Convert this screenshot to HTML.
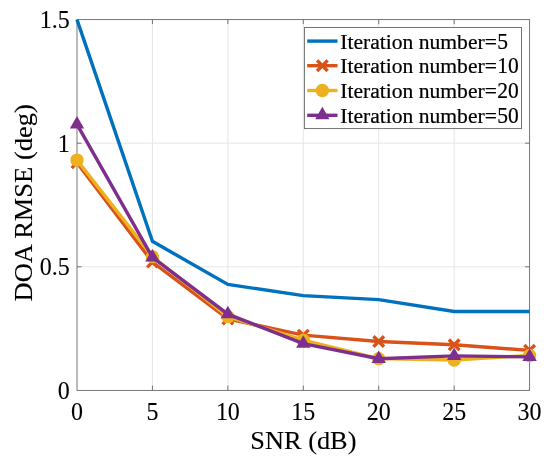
<!DOCTYPE html>
<html><head><meta charset="utf-8"><title>DOA RMSE vs SNR</title>
<style>html,body{margin:0;padding:0;background:#fff}svg{display:block}</style></head>
<body>
<svg width="550" height="460" viewBox="0 0 550 460">
<rect width="550" height="460" fill="#fff"/>
<line x1="152.43" y1="19.6" x2="152.43" y2="390.4" stroke="#e6e6e6" stroke-width="1"/>
<line x1="227.87" y1="19.6" x2="227.87" y2="390.4" stroke="#e6e6e6" stroke-width="1"/>
<line x1="303.30" y1="19.6" x2="303.30" y2="390.4" stroke="#e6e6e6" stroke-width="1"/>
<line x1="378.73" y1="19.6" x2="378.73" y2="390.4" stroke="#e6e6e6" stroke-width="1"/>
<line x1="454.17" y1="19.6" x2="454.17" y2="390.4" stroke="#e6e6e6" stroke-width="1"/>
<line x1="77.0" y1="266.80" x2="529.6" y2="266.80" stroke="#e6e6e6" stroke-width="1"/>
<line x1="77.0" y1="143.20" x2="529.6" y2="143.20" stroke="#e6e6e6" stroke-width="1"/>
<rect x="77.0" y="19.6" width="452.6" height="370.8" fill="none" stroke="#686868" stroke-width="0.9"/>
<line x1="152.43" y1="390.4" x2="152.43" y2="385.5" stroke="#686868" stroke-width="0.9"/>
<line x1="152.43" y1="19.6" x2="152.43" y2="24.1" stroke="#686868" stroke-width="0.9"/>
<line x1="227.87" y1="390.4" x2="227.87" y2="385.5" stroke="#686868" stroke-width="0.9"/>
<line x1="227.87" y1="19.6" x2="227.87" y2="24.1" stroke="#686868" stroke-width="0.9"/>
<line x1="303.30" y1="390.4" x2="303.30" y2="385.5" stroke="#686868" stroke-width="0.9"/>
<line x1="303.30" y1="19.6" x2="303.30" y2="24.1" stroke="#686868" stroke-width="0.9"/>
<line x1="378.73" y1="390.4" x2="378.73" y2="385.5" stroke="#686868" stroke-width="0.9"/>
<line x1="378.73" y1="19.6" x2="378.73" y2="24.1" stroke="#686868" stroke-width="0.9"/>
<line x1="454.17" y1="390.4" x2="454.17" y2="385.5" stroke="#686868" stroke-width="0.9"/>
<line x1="454.17" y1="19.6" x2="454.17" y2="24.1" stroke="#686868" stroke-width="0.9"/>
<line x1="77.0" y1="266.80" x2="81.5" y2="266.80" stroke="#686868" stroke-width="0.9"/>
<line x1="529.6" y1="266.80" x2="525.1" y2="266.80" stroke="#686868" stroke-width="0.9"/>
<line x1="77.0" y1="143.20" x2="81.5" y2="143.20" stroke="#686868" stroke-width="0.9"/>
<line x1="529.6" y1="143.20" x2="525.1" y2="143.20" stroke="#686868" stroke-width="0.9"/>
<clipPath id="cp"><rect x="69.0" y="11.600000000000001" width="468.6" height="386.4"/></clipPath>
<g clip-path="url(#cp)">
<polyline points="77.00,19.60 152.43,241.35 227.87,284.44 303.30,295.67 378.73,299.57 454.17,311.52 529.60,311.52" fill="none" stroke="#0072BD" stroke-width="3.4" stroke-linejoin="miter" stroke-linecap="butt"/>
<polyline points="77.00,162.82 152.43,262.09 227.87,318.88 303.30,335.18 378.73,341.48 454.17,344.81 529.60,350.37" fill="none" stroke="#D95319" stroke-width="3.4" stroke-linejoin="miter" stroke-linecap="butt"/>
<path d="M71.70 157.52L82.30 168.12M71.70 168.12L82.30 157.52" stroke="#D95319" stroke-width="3.4" fill="none"/>
<path d="M147.13 256.79L157.73 267.39M147.13 267.39L157.73 256.79" stroke="#D95319" stroke-width="3.4" fill="none"/>
<path d="M222.57 313.58L233.17 324.18M222.57 324.18L233.17 313.58" stroke="#D95319" stroke-width="3.4" fill="none"/>
<path d="M298.00 329.88L308.60 340.48M298.00 340.48L308.60 329.88" stroke="#D95319" stroke-width="3.4" fill="none"/>
<path d="M373.43 336.18L384.03 346.78M373.43 346.78L384.03 336.18" stroke="#D95319" stroke-width="3.4" fill="none"/>
<path d="M448.87 339.51L459.47 350.11M448.87 350.11L459.47 339.51" stroke="#D95319" stroke-width="3.4" fill="none"/>
<path d="M524.30 345.07L534.90 355.67M524.30 355.67L534.90 345.07" stroke="#D95319" stroke-width="3.4" fill="none"/>
<polyline points="77.00,160.11 152.43,256.66 227.87,316.66 303.30,340.12 378.73,358.64 454.17,360.00 529.60,355.43" fill="none" stroke="#EDB120" stroke-width="3.4" stroke-linejoin="miter" stroke-linecap="butt"/>
<circle cx="77.00" cy="160.11" r="6.7" fill="#EDB120"/>
<circle cx="152.43" cy="256.66" r="6.7" fill="#EDB120"/>
<circle cx="227.87" cy="316.66" r="6.7" fill="#EDB120"/>
<circle cx="303.30" cy="340.12" r="6.7" fill="#EDB120"/>
<circle cx="378.73" cy="358.64" r="6.7" fill="#EDB120"/>
<circle cx="454.17" cy="360.00" r="6.7" fill="#EDB120"/>
<circle cx="529.60" cy="355.43" r="6.7" fill="#EDB120"/>
<polyline points="77.00,124.30 152.43,257.35 227.87,314.19 303.30,343.58 378.73,358.76 454.17,355.92 529.60,356.91" fill="none" stroke="#7E2F8E" stroke-width="3.4" stroke-linejoin="miter" stroke-linecap="butt"/>
<path d="M77.00 115.97L84.20 128.47L69.80 128.47Z" fill="#7E2F8E"/>
<path d="M152.43 249.01L159.63 261.51L145.23 261.51Z" fill="#7E2F8E"/>
<path d="M227.87 305.86L235.07 318.36L220.67 318.36Z" fill="#7E2F8E"/>
<path d="M303.30 335.24L310.50 347.74L296.10 347.74Z" fill="#7E2F8E"/>
<path d="M378.73 350.43L385.93 362.93L371.53 362.93Z" fill="#7E2F8E"/>
<path d="M454.17 347.59L461.37 360.09L446.97 360.09Z" fill="#7E2F8E"/>
<path d="M529.60 348.58L536.80 361.08L522.40 361.08Z" fill="#7E2F8E"/>
</g>
<text transform="translate(77.00,419.7) scale(0.93,1)" font-size="25.8" font-family="Liberation Serif, serif" text-anchor="middle" fill="#000" stroke="#000" stroke-width="0.1">0</text>
<text transform="translate(152.43,419.7) scale(0.93,1)" font-size="25.8" font-family="Liberation Serif, serif" text-anchor="middle" fill="#000" stroke="#000" stroke-width="0.1">5</text>
<text transform="translate(227.87,419.7) scale(0.93,1)" font-size="25.8" font-family="Liberation Serif, serif" text-anchor="middle" fill="#000" stroke="#000" stroke-width="0.1">10</text>
<text transform="translate(303.30,419.7) scale(0.93,1)" font-size="25.8" font-family="Liberation Serif, serif" text-anchor="middle" fill="#000" stroke="#000" stroke-width="0.1">15</text>
<text transform="translate(378.73,419.7) scale(0.93,1)" font-size="25.8" font-family="Liberation Serif, serif" text-anchor="middle" fill="#000" stroke="#000" stroke-width="0.1">20</text>
<text transform="translate(454.17,419.7) scale(0.93,1)" font-size="25.8" font-family="Liberation Serif, serif" text-anchor="middle" fill="#000" stroke="#000" stroke-width="0.1">25</text>
<text transform="translate(529.60,419.7) scale(0.93,1)" font-size="25.8" font-family="Liberation Serif, serif" text-anchor="middle" fill="#000" stroke="#000" stroke-width="0.1">30</text>
<text transform="translate(69.7,398.50) scale(0.93,1)" font-size="25.8" font-family="Liberation Serif, serif" text-anchor="end" fill="#000" stroke="#000" stroke-width="0.1">0</text>
<text transform="translate(69.7,275.03) scale(0.93,1)" font-size="25.8" font-family="Liberation Serif, serif" text-anchor="end" fill="#000" stroke="#000" stroke-width="0.1">0.5</text>
<text transform="translate(69.7,151.57) scale(0.93,1)" font-size="25.8" font-family="Liberation Serif, serif" text-anchor="end" fill="#000" stroke="#000" stroke-width="0.1">1</text>
<text transform="translate(69.7,28.10) scale(0.93,1)" font-size="25.8" font-family="Liberation Serif, serif" text-anchor="end" fill="#000" stroke="#000" stroke-width="0.1">1.5</text>
<text transform="translate(303.4,448.9) scale(1.03,1)" font-size="25.6" font-family="Liberation Serif, serif" text-anchor="middle" fill="#000" stroke="#000" stroke-width="0.1">SNR (dB)</text>
<text transform="translate(32.4,202.8) rotate(-90) scale(1.036,1)" font-size="25.6" font-family="Liberation Serif, serif" text-anchor="middle" fill="#000" stroke="#000" stroke-width="0.1">DOA RMSE (deg)</text>
<rect x="304.4" y="27.5" width="217.1" height="101.1" fill="#fff" stroke="#666" stroke-width="0.9"/>
<line x1="307.2" y1="41.1" x2="337.5" y2="41.1" stroke="#0072BD" stroke-width="3.4"/>
<text x="340.2" y="48.6" font-size="21.6" font-family="Liberation Serif, serif" fill="#000" stroke="#000" stroke-width="0.22">Iteration number=</text>
<text transform="translate(497.3,48.6) scale(0.92,1)" font-size="23.4" font-family="Liberation Serif, serif" fill="#000" stroke="#000" stroke-width="0.22">5</text>
<line x1="307.2" y1="65.7" x2="337.5" y2="65.7" stroke="#D95319" stroke-width="3.4"/>
<path d="M317.05 60.40L327.65 71.00M317.05 71.00L327.65 60.40" stroke="#D95319" stroke-width="3.4" fill="none"/>
<text x="340.2" y="73.3" font-size="21.6" font-family="Liberation Serif, serif" fill="#000" stroke="#000" stroke-width="0.22">Iteration number=</text>
<text transform="translate(497.3,73.3) scale(0.92,1)" font-size="23.4" font-family="Liberation Serif, serif" fill="#000" stroke="#000" stroke-width="0.22">10</text>
<line x1="307.2" y1="90.5" x2="337.5" y2="90.5" stroke="#EDB120" stroke-width="3.4"/>
<circle cx="322.35" cy="90.50" r="6.7" fill="#EDB120"/>
<text x="340.2" y="98.0" font-size="21.6" font-family="Liberation Serif, serif" fill="#000" stroke="#000" stroke-width="0.22">Iteration number=</text>
<text transform="translate(497.3,98.0) scale(0.92,1)" font-size="23.4" font-family="Liberation Serif, serif" fill="#000" stroke="#000" stroke-width="0.22">20</text>
<line x1="307.2" y1="115.3" x2="337.5" y2="115.3" stroke="#7E2F8E" stroke-width="3.4"/>
<path d="M322.35 106.77L329.55 119.27L315.15 119.27Z" fill="#7E2F8E"/>
<text x="340.2" y="122.7" font-size="21.6" font-family="Liberation Serif, serif" fill="#000" stroke="#000" stroke-width="0.22">Iteration number=</text>
<text transform="translate(497.3,122.7) scale(0.92,1)" font-size="23.4" font-family="Liberation Serif, serif" fill="#000" stroke="#000" stroke-width="0.22">50</text>
</svg>
</body></html>
